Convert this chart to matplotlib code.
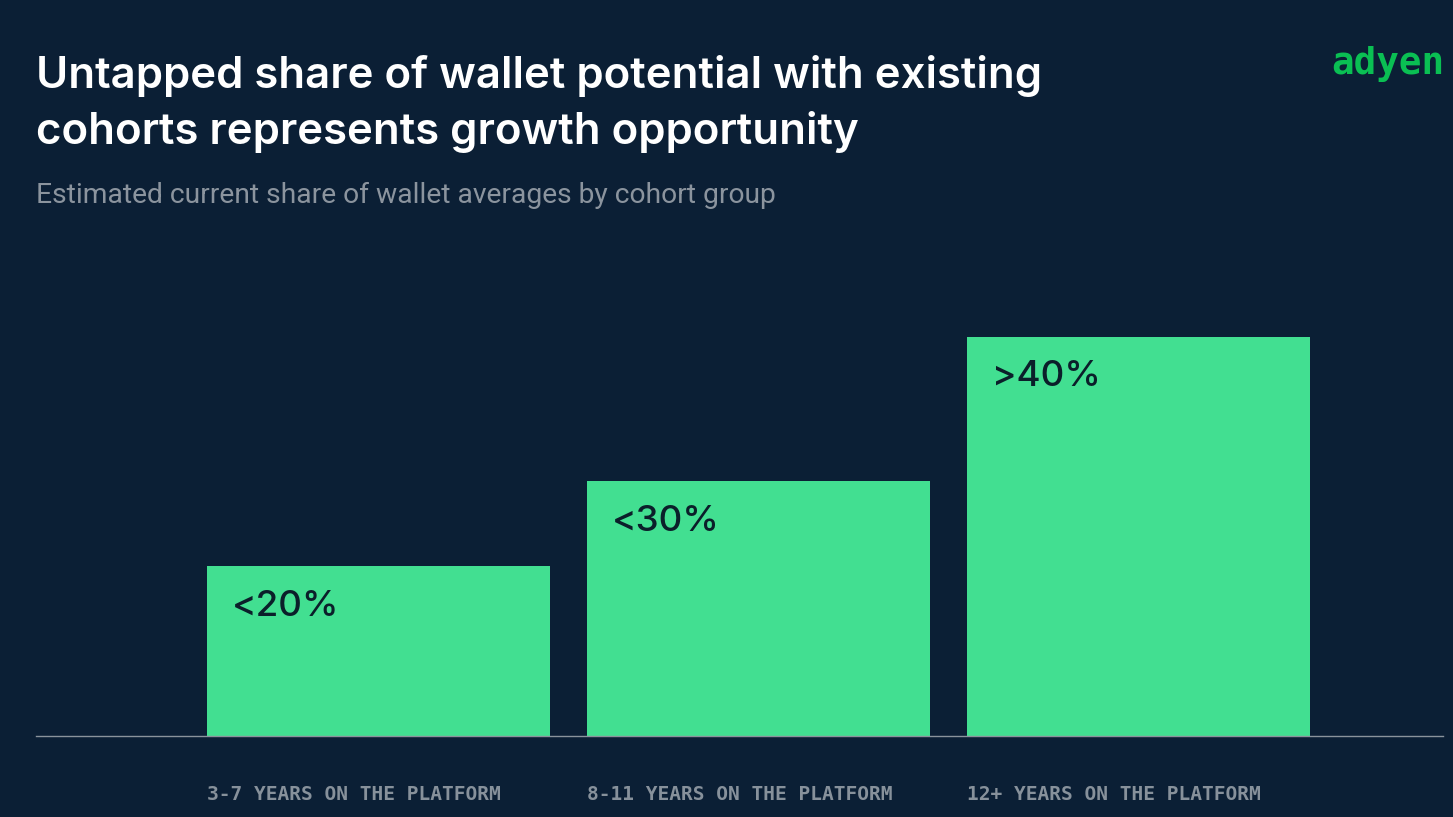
import matplotlib.pyplot as plt
import numpy as np

categories = ["3-7 YEARS ON THE PLATFORM", "8-11 YEARS ON THE PLATFORM", "12+ YEARS ON THE PLATFORM"]
values = [20, 30, 47]
bar_labels = ["<20%", "<30%", ">40%"]

BG = "#0b1f35"
BAR = "#42df91"
GREY = "#8b949e"

fig = plt.figure(figsize=(14.53, 8.17), dpi=100, facecolor=BG)
ax = fig.add_axes([36 / 1453, 81 / 817, 1407 / 1453, 510 / 817])
ax.set_facecolor(BG)

x = np.arange(len(categories))
width = 343 / 380
bars = ax.bar(x, values, width=width, color=BAR, zorder=2)

for rect, lab in zip(bars, bar_labels):
    ax.annotate(lab, (rect.get_x(), rect.get_height()), xytext=(18, -36),
                textcoords="offset points", ha="left", va="baseline",
                fontsize=26.5, color="#0b1f2a", family="Inter", weight="medium")

ax.set_xlim(-0.901, 2.801)
ax.set_ylim(0, 60)
ax.set_yticks([])
ax.set_xticks(x - width / 2)
ax.set_xticklabels(categories, ha="left", family="DejaVu Sans Mono",
                   fontsize=14, color="#87919b", weight="bold")
ax.tick_params(axis="x", length=0, pad=35)
for s in ["top", "right", "left"]:
    ax.spines[s].set_visible(False)
ax.spines["bottom"].set_color("#8a939c")
ax.spines["bottom"].set_linewidth(1)

fig.text(36 / 1453, 1 - 144 / 817, "Untapped share of wallet potential with existing\ncohorts represents growth opportunity",
         color="white", fontsize=31.5, family="Inter", weight="semibold",
         va="baseline", ha="left", linespacing=1.42)
fig.text(36 / 1453, 1 - 203 / 817, "Estimated current share of wallet averages by cohort group",
         color=GREY, fontsize=20.3, family="Roboto", va="baseline", ha="left")
fig.text(1444 / 1453, 1 - 74 / 817, "adyen", color="#0abf53", fontsize=27,
         family="DejaVu Sans Mono", weight="bold", ha="right", va="baseline")

fig.savefig("out.png", dpi=100, facecolor=BG)
